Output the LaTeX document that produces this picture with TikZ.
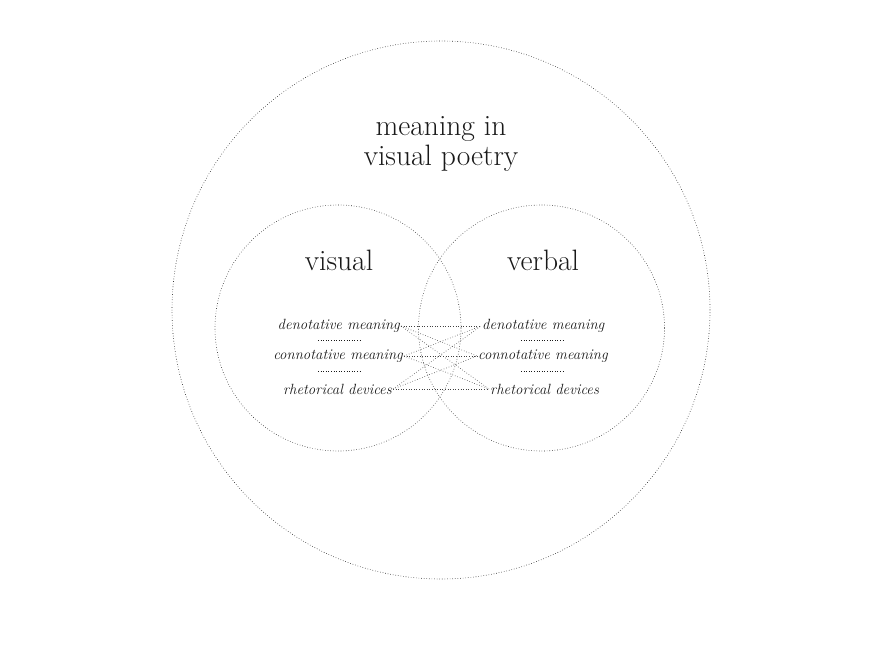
\documentclass[tikz,border=0pt]{standalone}
\usepackage{fontspec}
\begin{document}
\begin{tikzpicture}[x=1pt,y=-1pt,
  ring/.style={circle, draw=black!85, dotted, line width=0.6pt, inner sep=0pt},
  bigtitle/.style={text=black!90, font=\fontsize{29.5}{30}\selectfont, align=center},
  settitle/.style={text=black!90, font=\fontsize{29.5}{30}\selectfont},
  lbl/.style={text=black!90, font=\fontsize{14.8}{16}\selectfont\itshape, inner sep=1pt},
  link/.style={dotted, line width=0.6pt, draw=black!75},
  sep/.style={dotted, line width=0.6pt, draw=black!90}]
\useasboundingbox (0,0) rectangle (882,661);
\node[ring, minimum size=538pt] (outer) at (441,310) {};
\node[ring, minimum size=246pt] (lc) at (338,328) {};
\node[ring, minimum size=246pt] (rc) at (541.5,328) {};
\node[bigtitle] (title) at (441,144) {meaning in\\visual poetry};
\node[settitle] (vis) at (339,260) {visual};
\node[settitle] (verb) at (543,260) {verbal};
\node[lbl, anchor=east] (ld) at (401,326) {denotative meaning};
\node[lbl, anchor=east] (lco) at (404,356) {connotative meaning};
\node[lbl, anchor=east] (lr) at (393,389) {rhetorical devices};
\node[lbl, anchor=west] (rd) at (481,326) {denotative meaning};
\node[lbl, anchor=west] (rco) at (477,356) {connotative meaning};
\node[lbl, anchor=west] (rr) at (489,389) {rhetorical devices};
\foreach \a in {ld,lco,lr}{
  \foreach \b in {rd,rco,rr}{
    \draw[link] (\a.east) -- (\b.west);
  }
}
\coordinate (s1a) at (318,340); \coordinate (s1b) at (360,340);
\coordinate (s2a) at (318,371); \coordinate (s2b) at (360,371);
\coordinate (s3a) at (521,340); \coordinate (s3b) at (563,340);
\coordinate (s4a) at (521,371); \coordinate (s4b) at (563,371);
\draw[sep] (s1a) -- (s1b);
\draw[sep] (s2a) -- (s2b);
\draw[sep] (s3a) -- (s3b);
\draw[sep] (s4a) -- (s4b);
\end{tikzpicture}
\end{document}
